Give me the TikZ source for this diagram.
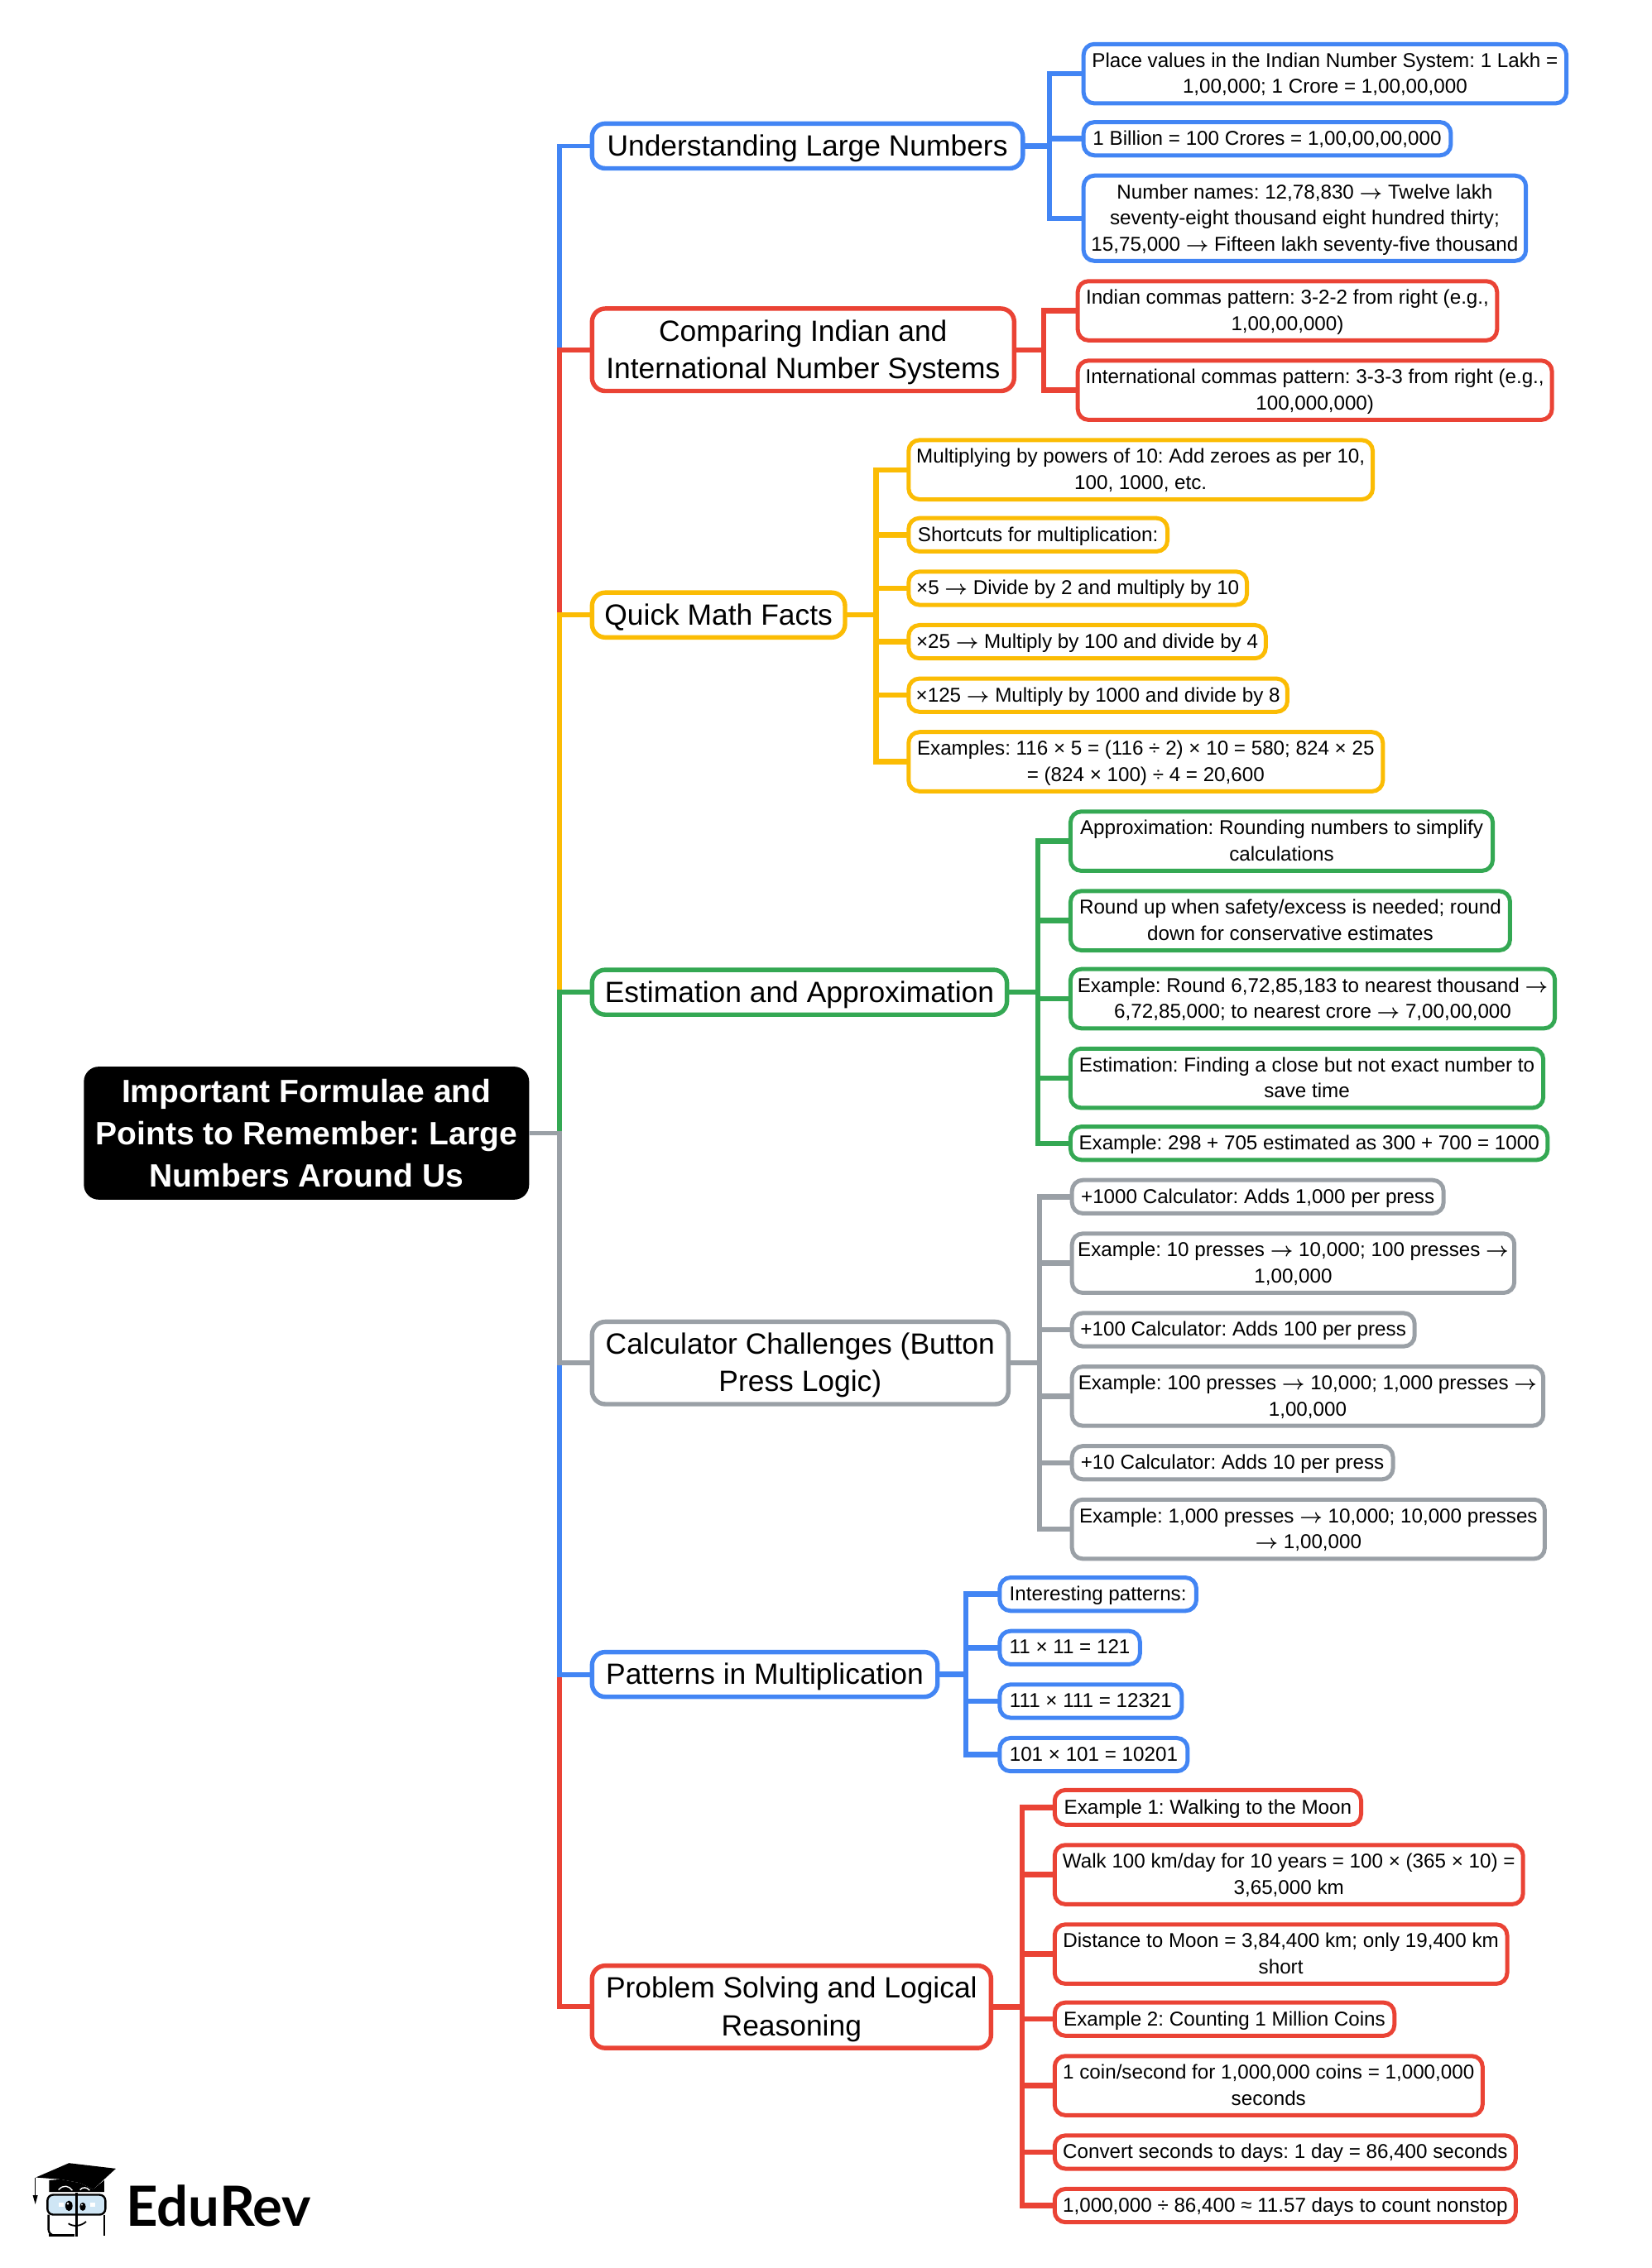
\documentclass[tikz,border=0pt]{standalone}
\usepackage{fontspec}
\setmainfont{Liberation Sans}
\newfontfamily\logofont{Lato}
\newcommand{\toarrow}{\mbox{\boldmath$\rightarrow$}}
\definecolor{mapblue}{HTML}{4285F4}
\definecolor{mapred}{HTML}{EA4335}
\definecolor{mapyellow}{HTML}{FBBC04}
\definecolor{mapgreen}{HTML}{34A853}
\definecolor{mapgray}{HTML}{9AA0A6}
\definecolor{lensblue}{HTML}{CFE6F5}
\tikzset{
    boxsize/.style 2 args={minimum width=(#1+1)*0.8734pt, minimum height=(#2+1)*0.8734pt},
    rootbox/.style={fill=black, text=white, rounded corners=9pt, inner sep=0pt, outer sep=0pt, align=center, anchor=west,
        font=\fontsize{19.5}{25.3}\selectfont\bfseries\frenchspacing},
    branchbox/.style={draw=#1, fill=white, line width=2.7pt, rounded corners=8pt, inner sep=0pt, outer sep=0pt, align=center, anchor=west,
        text depth=0.8pt, font=\fontsize{17.7}{22.7}\selectfont\frenchspacing},
    leafbox/.style={draw=#1, fill=white, line width=2.5pt, rounded corners=6.5pt, inner sep=0pt, outer sep=0pt, align=center, anchor=west,
        text depth=0.85pt, font=\fontsize{12.1}{15.7}\selectfont\frenchspacing},
    trunk/.style={draw=#1, line width=2.9pt},
    twig/.style={draw=#1, line width=3.2pt},
}
\begin{document}
\begin{tikzpicture}[x=0.8734pt, y=-0.8734pt]
    \useasboundingbox (0,0) rectangle (1142.7,1569.2);

    \coordinate (rootfork) at (387,784);
    \coordinate (f1) at (726,101);
    \coordinate (f2) at (722,242);
    \coordinate (f3) at (606,425.5);
    \coordinate (f4) at (718,686.5);
    \coordinate (f5) at (719,943);
    \coordinate (f6) at (668,1158.5);
    \coordinate (f7) at (707,1388.5);

    \node[rootbox, boxsize={307}{91}] (root) at (58,784) {Important Formulae and\\Points to Remember: Large\\Numbers Around Us};

    \node[branchbox=mapblue, boxsize={297}{30}] (b1) at (409.5,101) {Understanding Large Numbers};
    \node[branchbox=mapred, boxsize={291}{56}] (b2) at (409.5,242) {Comparing Indian and\\International Number Systems};
    \node[branchbox=mapyellow, boxsize={174}{30}] (b3) at (409.5,425.5) {Quick Math Facts};
    \node[branchbox=mapgreen, boxsize={286}{30}] (b4) at (409.5,686.5) {Estimation and Approximation};
    \node[branchbox=mapgray, boxsize={287}{56}] (b5) at (409.5,943) {Calculator Challenges (Button\\Press Logic)};
    \node[branchbox=mapblue, boxsize={238}{30}] (b6) at (409.5,1158.5) {Patterns in Multiplication};
    \node[branchbox=mapred, boxsize={275}{56}] (b7) at (409.5,1388.5) {Problem Solving and Logical\\Reasoning};

    \node[leafbox=mapblue, boxsize={333}{40}] (l11) at (749.5,51) {Place values in the Indian Number System: 1 Lakh =\\1,00,000; 1 Crore = 1,00,00,000};
    \node[leafbox=mapblue, boxsize={253}{22}] (l12) at (749.5,96) {1 Billion = 100 Crores = 1,00,00,00,000};
    \node[leafbox=mapblue, boxsize={305}{58}] (l13) at (749.5,151) {Number names: 12,78,830 \toarrow{} Twelve lakh\\seventy-eight thousand eight hundred thirty;\\15,75,000 \toarrow{} Fifteen lakh seventy-five thousand};

    \node[leafbox=mapred, boxsize={289}{40}] (l21) at (745.5,215) {Indian commas pattern: 3-2-2 from right (e.g.,\\1,00,00,000)};
    \node[leafbox=mapred, boxsize={327}{40}] (l22) at (745.5,270) {International commas pattern: 3-3-3 from right (e.g.,\\100,000,000)};

    \node[leafbox=mapyellow, boxsize={320}{40}] (l31) at (628.5,325) {Multiplying by powers of 10: Add zeroes as per 10,\\100, 1000, etc.};
    \node[leafbox=mapyellow, boxsize={178}{22}] (l32) at (628.5,370) {Shortcuts for multiplication:};
    \node[leafbox=mapyellow, boxsize={233}{22}] (l33) at (628.5,407) {×5 \toarrow{} Divide by 2 and multiply by 10};
    \node[leafbox=mapyellow, boxsize={246}{22}] (l34) at (628.5,444) {×25 \toarrow{} Multiply by 100 and divide by 4};
    \node[leafbox=mapyellow, boxsize={261}{22}] (l35) at (628.5,481) {×125 \toarrow{} Multiply by 1000 and divide by 8};
    \node[leafbox=mapyellow, boxsize={327}{40}] (l36) at (628.5,527) {Examples: 116 × 5 = (116 ÷ 2) × 10 = 580; 824 × 25\\= (824 × 100) ÷ 4 = 20,600};

    \node[leafbox=mapgreen, boxsize={291}{40}] (l41) at (740.5,582) {Approximation: Rounding numbers to simplify\\calculations};
    \node[leafbox=mapgreen, boxsize={303}{40}] (l42) at (740.5,637) {Round up when safety/excess is needed; round\\down for conservative estimates};
    \node[leafbox=mapgreen, boxsize={334}{40}] (l43) at (740.5,691) {Example: Round 6,72,85,183 to nearest thousand \toarrow{}\\6,72,85,000; to nearest crore \toarrow{} 7,00,00,000};
    \node[leafbox=mapgreen, boxsize={326}{40}] (l44) at (740.5,746) {Estimation: Finding a close but not exact number to\\save time};
    \node[leafbox=mapgreen, boxsize={329}{22}] (l45) at (740.5,791) {Example: 298 + 705 estimated as 300 + 700 = 1000};

    \node[leafbox=mapgray, boxsize={256}{22}] (l51) at (741.5,828) {+1000 Calculator: Adds 1,000 per press};
    \node[leafbox=mapgray, boxsize={305}{40}] (l52) at (741.5,874) {Example: 10 presses \toarrow{} 10,000; 100 presses \toarrow{}\\1,00,000};
    \node[leafbox=mapgray, boxsize={236}{22}] (l53) at (741.5,920) {+100 Calculator: Adds 100 per press};
    \node[leafbox=mapgray, boxsize={325}{40}] (l54) at (741.5,966) {Example: 100 presses \toarrow{} 10,000; 1,000 presses \toarrow{}\\1,00,000};
    \node[leafbox=mapgray, boxsize={221}{22}] (l55) at (741.5,1012) {+10 Calculator: Adds 10 per press};
    \node[leafbox=mapgray, boxsize={326}{40}] (l56) at (741.5,1058) {Example: 1,000 presses \toarrow{} 10,000; 10,000 presses\\\toarrow{} 1,00,000};

    \node[leafbox=mapblue, boxsize={135}{22}] (l61) at (691.5,1103) {Interesting patterns:};
    \node[leafbox=mapblue, boxsize={96}{22}] (l62) at (691.5,1140) {11 × 11 = 121};
    \node[leafbox=mapblue, boxsize={125}{22}] (l63) at (691.5,1177) {111 × 111 = 12321};
    \node[leafbox=mapblue, boxsize={129}{22}] (l64) at (691.5,1214) {101 × 101 = 10201};

    \node[leafbox=mapred, boxsize={211}{23}] (l71) at (729.5,1250.5) {Example 1: Walking to the Moon};
    \node[leafbox=mapred, boxsize={323}{40}] (l72) at (729.5,1297) {Walk 100 km/day for 10 years = 100 × (365 × 10) =\\3,65,000 km};
    \node[leafbox=mapred, boxsize={312}{40}] (l73) at (729.5,1352) {Distance to Moon = 3,84,400 km; only 19,400 km\\short};
    \node[leafbox=mapred, boxsize={234}{22}] (l74) at (729.5,1397) {Example 2: Counting 1 Million Coins};
    \node[leafbox=mapred, boxsize={295}{40}] (l75) at (729.5,1443) {1 coin/second for 1,000,000 coins = 1,000,000\\seconds};
    \node[leafbox=mapred, boxsize={318}{22}] (l76) at (729.5,1489) {Convert seconds to days: 1 day = 86,400 seconds};
    \node[leafbox=mapred, boxsize={318}{22}] (l77) at (729.5,1526) {1,000,000 ÷ 86,400 ≈ 11.57 days to count nonstop};

    \draw[trunk=mapblue] (root.east) -- (rootfork) |- (b1.west);
    \draw[trunk=mapred] (root.east) -- (rootfork) |- (b2.west);
    \draw[trunk=mapyellow] (root.east) -- (rootfork) |- (b3.west);
    \draw[trunk=mapgreen] (root.east) -- (rootfork) |- (b4.west);
    \draw[trunk=mapred] (root.east) -- (rootfork) |- (b7.west);
    \draw[trunk=mapblue] (root.east) -- (rootfork) |- (b6.west);
    \draw[trunk=mapgray] (root.east) -- (rootfork) |- (b5.west);

    \draw[twig=mapblue] (b1.east) -- (f1) |- (l11.west);
    \draw[twig=mapblue] (b1.east) -- (f1) |- (l12.west);
    \draw[twig=mapblue] (b1.east) -- (f1) |- (l13.west);

    \draw[twig=mapred] (b2.east) -- (f2) |- (l21.west);
    \draw[twig=mapred] (b2.east) -- (f2) |- (l22.west);

    \draw[twig=mapyellow] (b3.east) -- (f3) |- (l31.west);
    \draw[twig=mapyellow] (b3.east) -- (f3) |- (l32.west);
    \draw[twig=mapyellow] (b3.east) -- (f3) |- (l33.west);
    \draw[twig=mapyellow] (b3.east) -- (f3) |- (l34.west);
    \draw[twig=mapyellow] (b3.east) -- (f3) |- (l35.west);
    \draw[twig=mapyellow] (b3.east) -- (f3) |- (l36.west);

    \draw[twig=mapgreen] (b4.east) -- (f4) |- (l41.west);
    \draw[twig=mapgreen] (b4.east) -- (f4) |- (l42.west);
    \draw[twig=mapgreen] (b4.east) -- (f4) |- (l43.west);
    \draw[twig=mapgreen] (b4.east) -- (f4) |- (l44.west);
    \draw[twig=mapgreen] (b4.east) -- (f4) |- (l45.west);

    \draw[twig=mapgray] (b5.east) -- (f5) |- (l51.west);
    \draw[twig=mapgray] (b5.east) -- (f5) |- (l52.west);
    \draw[twig=mapgray] (b5.east) -- (f5) |- (l53.west);
    \draw[twig=mapgray] (b5.east) -- (f5) |- (l54.west);
    \draw[twig=mapgray] (b5.east) -- (f5) |- (l55.west);
    \draw[twig=mapgray] (b5.east) -- (f5) |- (l56.west);

    \draw[twig=mapblue] (b6.east) -- (f6) |- (l61.west);
    \draw[twig=mapblue] (b6.east) -- (f6) |- (l62.west);
    \draw[twig=mapblue] (b6.east) -- (f6) |- (l63.west);
    \draw[twig=mapblue] (b6.east) -- (f6) |- (l64.west);

    \draw[twig=mapred] (b7.east) -- (f7) |- (l71.west);
    \draw[twig=mapred] (b7.east) -- (f7) |- (l72.west);
    \draw[twig=mapred] (b7.east) -- (f7) |- (l73.west);
    \draw[twig=mapred] (b7.east) -- (f7) |- (l74.west);
    \draw[twig=mapred] (b7.east) -- (f7) |- (l75.west);
    \draw[twig=mapred] (b7.east) -- (f7) |- (l76.west);
    \draw[twig=mapred] (b7.east) -- (f7) |- (l77.west);

    \node[anchor=west, inner sep=0pt, font=\logofont\fontsize{33.5}{36}\selectfont\bfseries] (logotext) at (87,1526) {EduRev};

    \begin{scope}[shift={(0,1465.5)}, scale=0.1908]
        \fill (130,215) -- (250,163) -- (420,183) -- (338,258) -- (290,235) -- (220,222) -- cycle;
        \fill (178,225) -- (178,268) -- (378,268) -- (378,225) -- (338,258) -- (290,235) -- (220,222) -- cycle;
        \draw[white, line width=0.7pt] (212,260) .. controls (230,240) and (250,245) .. (262,262);
        \draw[white, line width=0.7pt] (290,260) .. controls (300,248) and (315,250) .. (325,262);
        \draw[line width=0.7pt] (128,215) -- (128,280);
        \fill (119,280) -- (137,280) -- (128,312) -- cycle;
        \draw[fill=lensblue, line width=1.2pt, rounded corners=3.5pt] (172,278) rectangle (382,350);
        \draw[line width=1.2pt, rounded corners=3.5pt] (200,425) -- (176,425) -- (176,350);
        \draw[line width=1.2pt] (176,425) -- (270,425);
        \draw[line width=1.2pt, rounded corners=3.5pt] (378,350) -- (378,425);
        \draw[line width=1.4pt] (278,270) -- (278,428);
        \fill (250,318) ellipse (13 and 19);
        \fill (300,321) ellipse (11 and 15);
        \fill[white] (246,310) circle (4);
        \fill[white] (297,314) circle (3);
        \fill[white] (213,306) rectangle (230,321);
        \fill[white] (327,306) rectangle (345,321);
        \draw[line width=0.9pt] (248,382) .. controls (265,395) and (295,392) .. (312,375);
    \end{scope}
\end{tikzpicture}
\end{document}
